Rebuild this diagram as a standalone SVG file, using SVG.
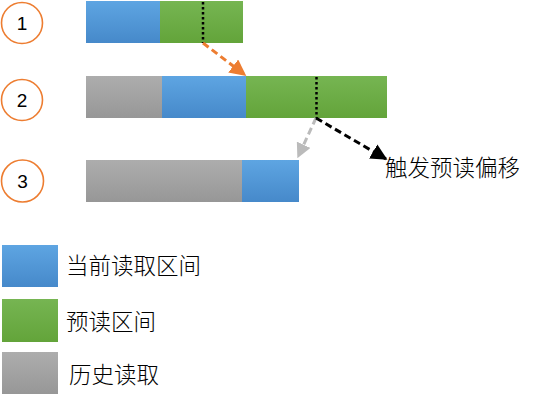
<svg xmlns="http://www.w3.org/2000/svg" width="540" height="401" viewBox="0 0 540 401">
<defs>
<linearGradient id="gB" x1="0" y1="0" x2="0" y2="1"><stop offset="0" stop-color="#5EA5E2"/><stop offset="1" stop-color="#4689CA"/></linearGradient>
<linearGradient id="gG" x1="0" y1="0" x2="0" y2="1"><stop offset="0" stop-color="#76B552"/><stop offset="1" stop-color="#63A43A"/></linearGradient>
<linearGradient id="gK" x1="0" y1="0" x2="0" y2="1"><stop offset="0" stop-color="#ADADAD"/><stop offset="1" stop-color="#979797"/></linearGradient>
<marker id="aO" viewBox="0 0 10 10" refX="9" refY="5" markerWidth="5.5" markerHeight="5.5" orient="auto" markerUnits="strokeWidth"><path d="M0,0 L10,5 L0,10 z" fill="#ED7D31"/></marker>
<marker id="aK" viewBox="0 0 10 10" refX="9" refY="5" markerWidth="5.5" markerHeight="5.5" orient="auto" markerUnits="strokeWidth"><path d="M0,0 L10,5 L0,10 z" fill="#000"/></marker>
<marker id="aG" viewBox="0 0 10 10" refX="9" refY="5" markerWidth="5" markerHeight="5" orient="auto" markerUnits="strokeWidth"><path d="M0,0 L10,5 L0,10 z" fill="#BBBBBB"/></marker>
</defs>
<style>
.circ{fill:#fff;stroke:#ED7D31;stroke-width:1.6}
.num{font-family:"Liberation Sans",Arial,sans-serif;font-size:19px;fill:#000;text-anchor:middle}
.lbl{font-family:"Noto Sans CJK SC","Noto Sans",sans-serif;font-size:22.5px;font-weight:300;fill:#000}
.dot{stroke:#000;stroke-width:2.5;stroke-dasharray:2.5 2.5;fill:none}
</style>
<rect width="540" height="401" fill="#fff"/>
<g id="step1">
<circle class="circ" cx="22" cy="23" r="20.5"/>
<text class="num" x="22" y="30">1</text>
<rect x="86" y="1" width="74" height="42" fill="url(#gB)"/>
<rect x="160" y="1" width="83" height="42" fill="url(#gG)"/>
<line class="dot" x1="203" y1="2" x2="203" y2="43"/>
</g>
<g id="step2">
<circle class="circ" cx="22" cy="100" r="20.5"/>
<text class="num" x="22" y="107">2</text>
<rect x="86" y="76" width="76" height="42" fill="url(#gK)"/>
<rect x="162" y="76" width="84" height="42" fill="url(#gB)"/>
<rect x="246" y="76" width="141" height="42" fill="url(#gG)"/>
<line class="dot" x1="316.5" y1="77" x2="316.5" y2="118"/>
</g>
<g id="step3">
<circle class="circ" cx="22.5" cy="181" r="21"/>
<text class="num" x="22.5" y="188">3</text>
<rect x="86" y="160" width="156" height="42" fill="url(#gK)"/>
<rect x="242" y="160" width="57" height="42" fill="url(#gB)"/>
</g>
<g id="connectors" fill="none">
<line x1="203" y1="43" x2="245" y2="75" stroke="#ED7D31" stroke-width="3" stroke-dasharray="7 4" marker-end="url(#aO)"/>
<line x1="316" y1="118" x2="298" y2="157" stroke="#BBBBBB" stroke-width="3" stroke-dasharray="7 4" marker-end="url(#aG)"/>
<line x1="316" y1="118" x2="386" y2="159" stroke="#000" stroke-width="3" stroke-dasharray="7 4" marker-end="url(#aK)"/>
</g>
<g id="trigger-label">
<text class="lbl" x="385" y="176">触发预读偏移</text>
</g>
<g id="legend-current">
<rect x="2" y="245" width="56" height="42" fill="url(#gB)"/>
<text class="lbl" x="66" y="274">当前读取区间</text>
</g>
<g id="legend-prefetch">
<rect x="2" y="299" width="56" height="43" fill="url(#gG)"/>
<text class="lbl" x="66" y="330">预读区间</text>
</g>
<g id="legend-history">
<rect x="2" y="352" width="56" height="42" fill="url(#gK)"/>
<text class="lbl" x="69" y="383">历史读取</text>
</g>
</svg>
